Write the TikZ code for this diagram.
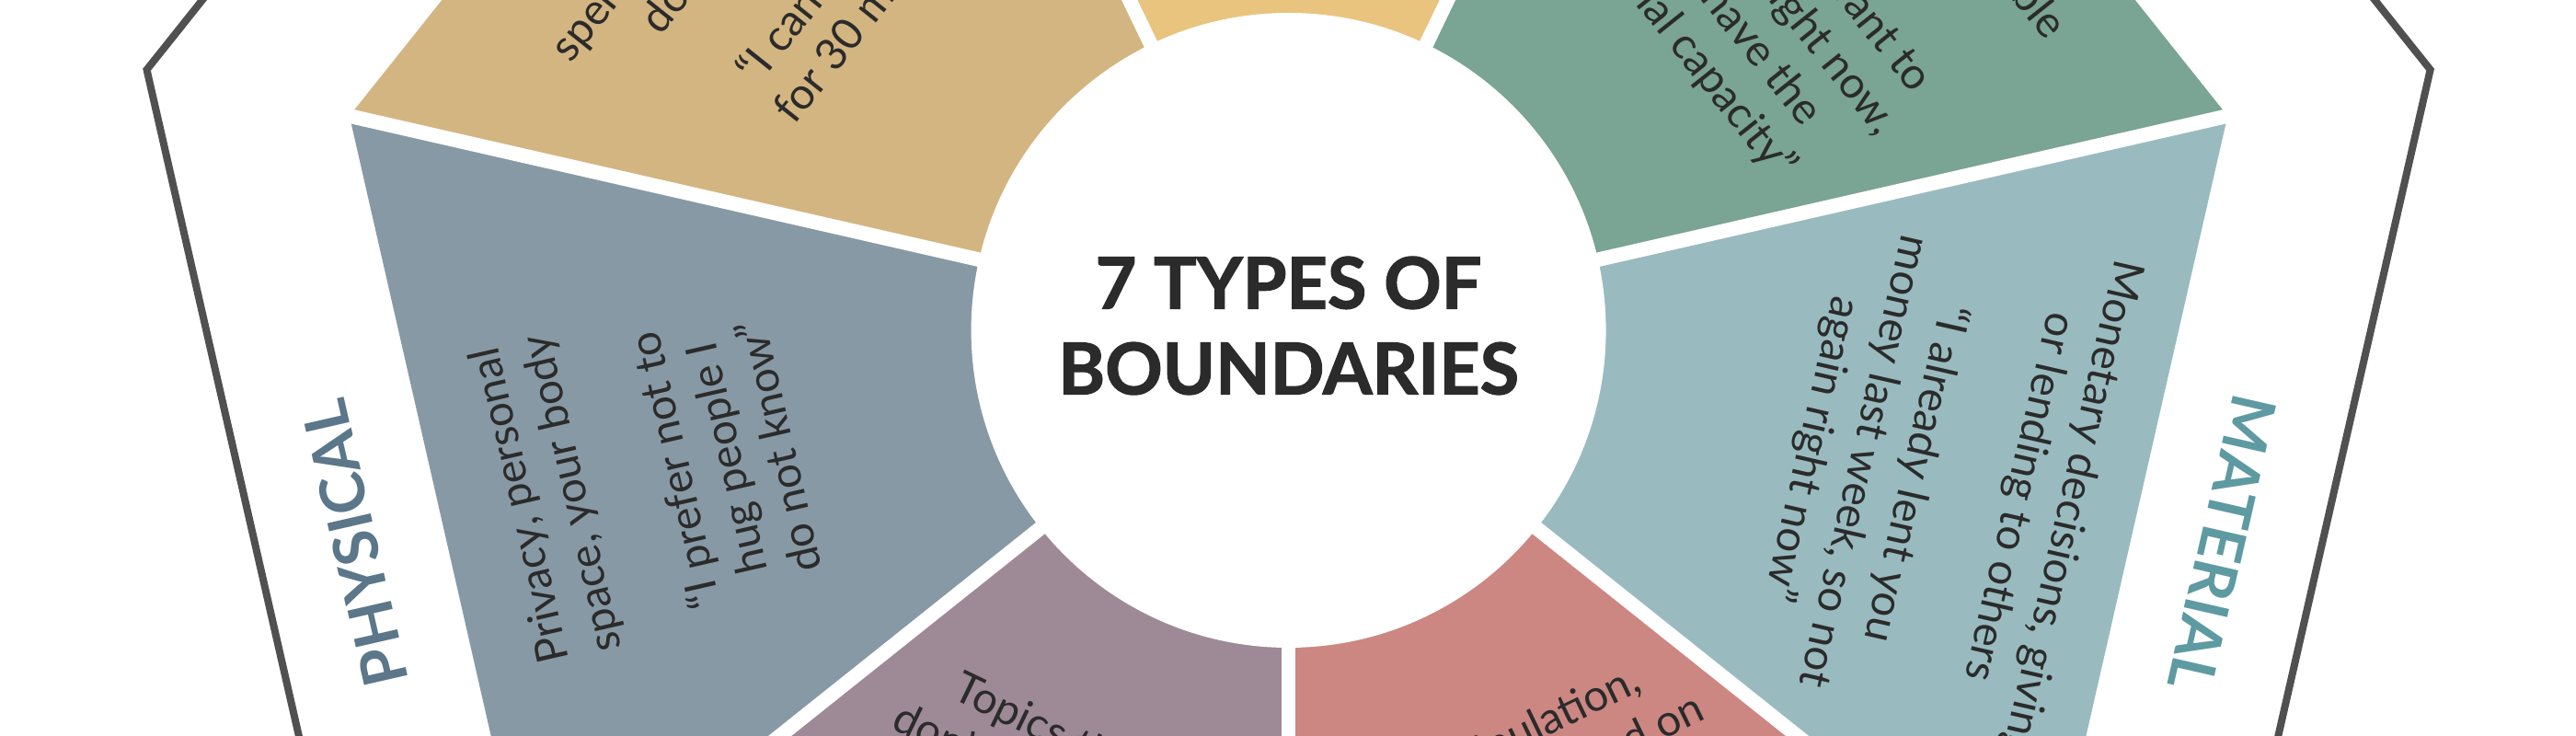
\documentclass[tikz,border=0pt]{standalone}
\usepackage{fontspec}
\setmainfont{Lato}
\newfontfamily\heavyfont{Lato}[BoldFeatures={FakeBold=1.6}]
\usetikzlibrary{calc}

\definecolor{rose}{HTML}{CC8782}
\definecolor{paleteal}{HTML}{99BBBF}
\definecolor{sage}{HTML}{7AA493}
\definecolor{honey}{HTML}{E9C47E}
\definecolor{sand}{HTML}{D3B581}
\definecolor{slate}{HTML}{8799A4}
\definecolor{mauve}{HTML}{9E8A96}
\definecolor{ink}{HTML}{2B2B2B}
\definecolor{rimgrey}{HTML}{505050}
\definecolor{slatelabel}{HTML}{5B7789}
\definecolor{teallabel}{HTML}{5E9AA2}

\tikzset{
  sector text/.style={font=\fontsize{13.5}{16.5}\selectfont, text=ink, align=center, inner sep=0pt},
  band label/.style={font=\fontsize{19}{22}\selectfont\bfseries, inner sep=0pt},
  gap/.style={white, line width=0.156cm},
  rim/.style={draw=rimgrey, line width=0.08cm, line join=miter},
}

\begin{document}
\begin{tikzpicture}

\useasboundingbox (-14.006, -4.41) rectangle (13.994, 3.59);
\fill [white] (-14.006, -4.41) rectangle (13.994, 3.59);
\clip (-14.006, -4.41) rectangle (13.994, 3.59);

% Sectors
\foreach \i/\col in {0/rose, 1/paleteal, 2/sage, 3/honey, 4/sand, 5/slate, 6/mauve} {
  \pgfmathsetmacro{\a}{-64.2857 + \i*51.4286}
  \fill [\col] (0, 0) -- ({\a-25.7143}:10.47) -- ({\a+25.7143}:10.47) -- cycle;
}

% Gaps between sectors
\foreach \i in {0,...,6}
  \draw [gap] (0, 0) -- ({-90 + \i*51.4286}:11);

% Outer rim
\draw [rim] (-90:12.73) -- (-38.571:12.73) -- (12.857:12.73) -- (64.286:12.73)
  -- (115.714:12.73) -- (167.143:12.73) -- (218.571:12.73) -- cycle;

% Centre
\fill [white] (0, 0) circle (3.45);
\node [font=\heavyfont\fontsize{22}{26.5}\selectfont\bfseries, text=ink, align=center] (title) at (0, 0.05) {7 TYPES OF\\BOUNDARIES};

% Sector texts
\node [sector text, rotate=102.857] (physical) at (192.857:7.14)
  {Privacy, personal\\space, your body\\[16.5pt]“I prefer not to\\hug people I\\do not know”};
\node [sector text, rotate=-102.857] (material) at (-12.857:7.27)
  {Monetary decisions, giving\\or lending to others\\[16.5pt]“I already lent you\\money last week, so not\\again right now”};
\node [sector text, rotate=-51.429] (emotional) at (38.571:7.2)
  {Feelings, ability to\\be emotionally vulnerable\\[26pt]“I really don’t want to\\talk about it right now,\\I do not have the\\emotional capacity”};
\node [sector text, rotate=51.429] (time) at (141.429:7.2)
  {How you want to\\spend your time, what to\\do with your day\\[16.5pt]“I can only talk\\for 30 minutes”};
\node [sector text, rotate=-25.714, anchor=north] (intellectual) at (244.286:4.84)
  {Topics that you\\don’t like to discuss};
\node [sector text, rotate=25.714, anchor=north] (sexual) at (-64.286:4.84)
  {No manipulation,\\no pressure, based on};

% Band labels
\node [band label, text=slatelabel, rotate=102.857] (physlabel) at (192.857:10.41) {PHYSICAL};
\node [band label, text=teallabel, rotate=-102.857] (matlabel) at (-12.857:10.41) {MATERIAL};

\end{tikzpicture}
\end{document}
